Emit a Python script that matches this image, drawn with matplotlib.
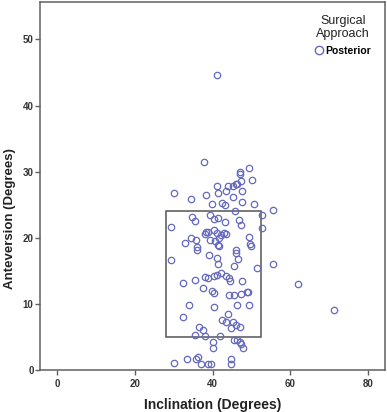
import matplotlib
matplotlib.use("Agg")
import matplotlib.pyplot as plt
from matplotlib.patches import Rectangle
from matplotlib.lines import Line2D

plt.rcParams['font.family'] = ['Liberation Sans', 'DejaVu Sans']

inclination = [37.7, 49.3, 46.9, 47.0, 50.2, 41.0, 41.4, 43.4, 44.0, 45.1, 45.9, 46.3,
               30.1, 34.5, 38.2, 45.1, 47.5, 47.6, 39.7, 42.4, 43.2, 50.7, 45.8, 55.5,
               34.7, 35.4, 39.3, 40.4, 41.4, 43.2, 46.8, 47.3, 52.8, 29.2, 52.8, 38.2,
               37.9, 38.9, 40.3, 41.1, 42.2, 43.0, 43.3, 34.4, 35.8, 32.9, 39.2, 40.7,
               41.5, 41.3, 41.6, 36.0, 36.0, 49.4, 49.7, 49.9, 46.0, 46.1, 39.0, 41.1,
               41.3, 46.5, 29.2, 45.4, 51.4, 55.5, 32.4, 35.5, 37.9, 38.8, 40.4, 41.1,
               42.2, 43.5, 44.1, 44.4, 47.5, 37.4, 39.8, 40.4, 44.1, 45.4, 47.3, 48.7,
               49.2, 33.8, 40.3, 46.3, 49.4, 32.4, 43.9, 42.5, 43.5, 45.2, 46.0, 44.6,
               46.9, 36.6, 37.4, 35.5, 38.0, 41.9, 40.1, 45.4, 46.3, 47.1, 47.4, 47.8,
               40.0, 30.1, 33.4, 35.6, 36.2, 36.9, 38.8, 39.6, 44.8, 44.6, 41.2, 62.0,
               71.3, 47.4]
anteversion = [31.5, 30.5, 30.0, 29.6, 28.7, 27.8, 26.7, 27.1, 27.9, 27.8, 28.1, 28.2,
               26.8, 25.9, 26.4, 26.2, 27.0, 25.4, 25.1, 25.2, 24.9, 25.1, 24.1, 24.2,
               23.2, 22.5, 23.5, 22.8, 23.0, 22.4, 22.7, 21.9, 23.5, 21.6, 21.5, 20.9,
               20.5, 20.8, 21.2, 20.7, 20.4, 20.7, 20.5, 19.9, 19.7, 19.2, 19.7, 19.5,
               20.0, 18.9, 18.7, 18.6, 18.2, 20.1, 19.1, 18.8, 18.1, 17.7, 17.4, 16.9,
               16.1, 16.8, 16.6, 15.8, 15.4, 16.1, 13.2, 13.6, 14.0, 13.9, 14.2, 14.4,
               14.7, 14.2, 13.9, 13.4, 13.5, 12.4, 12.0, 11.7, 11.4, 11.3, 11.5, 11.8,
               11.8, 9.8, 9.5, 9.9, 9.8, 8.0, 8.5, 7.6, 7.3, 7.3, 6.8, 6.4,
               6.5, 6.5, 6.1, 5.3, 5.2, 5.1, 4.3, 4.6, 4.5, 4.3, 4.0, 3.4,
               3.4, 1.1, 1.6, 1.7, 1.9, 0.9, 0.9, 0.9, 1.7, 0.9, 44.6, 13.0,
               9.0, 28.6]

safe_incl = [28.0, 52.5]
safe_ante = [5.0, 24.0]
xticks = [0, 20, 40, 60, 80]
yticks = [0, 10, 20, 30, 40, 50]
series_name = "Posterior"
legend_title = "Surgical\nApproach"

marker_color = '#6569bd'
frame_color = '#606060'

fig = plt.figure(figsize=(3.87, 4.12), dpi=100)
ax = fig.add_axes([40/387, 1 - 370/412, 345/387, 368.3/412])

ax.plot(inclination, anteversion, linestyle='none', marker='o', markersize=4.6,
        markerfacecolor='none', markeredgecolor=marker_color, markeredgewidth=0.9)

ax.add_patch(Rectangle((safe_incl[0], safe_ante[0]), safe_incl[1] - safe_incl[0],
                       safe_ante[1] - safe_ante[0], fill=False,
                       edgecolor='#555555', linewidth=1.1))

ax.set_xlim(-4.4, 84.3)
ax.set_ylim(0, 55.7)
ax.set_xticks(xticks)
ax.set_yticks(yticks)
ax.tick_params(axis='both', direction='out', length=3.6, width=1, color=frame_color,
               labelsize=7, labelcolor='#333333')
ax.tick_params(axis='y', pad=1)
ax.tick_params(axis='x', pad=3)
for lab in ax.get_xticklabels() + ax.get_yticklabels():
    lab.set_fontweight('bold')
for sp in ax.spines.values():
    sp.set_color(frame_color)
    sp.set_linewidth(1.1)

ax.set_xlabel("Inclination (Degrees)", fontsize=10, fontweight='bold', color='#222222', labelpad=6)
ax.set_ylabel("Anteversion (Degrees)", fontsize=9.5, fontweight='bold', color='#222222')
ax.yaxis.set_label_coords(-0.071, 0.41)

handle = Line2D([], [], linestyle='none', marker='o', markersize=6,
                markerfacecolor='none', markeredgecolor=marker_color, markeredgewidth=1.0)
leg = ax.legend([handle], [series_name], title=legend_title, loc='upper right',
                bbox_to_anchor=(0.98, 0.985), frameon=False, handlelength=0.8,
                handletextpad=0.2, borderaxespad=0.3,
                prop={'size': 7.5, 'weight': 'bold'}, title_fontsize=9)
leg.get_title().set_multialignment('center')
leg.get_title().set_color('#222222')

fig.savefig("out.png", dpi=100)
